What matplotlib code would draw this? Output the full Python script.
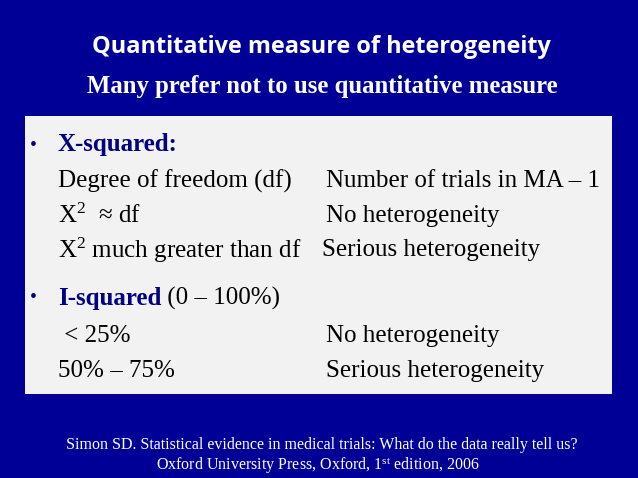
import matplotlib.pyplot as plt
from matplotlib.patches import Rectangle

plt.rcParams['mathtext.fontset'] = 'custom'
plt.rcParams['mathtext.rm'] = 'Liberation Serif'
plt.rcParams['mathtext.it'] = 'Liberation Serif'
plt.rcParams['mathtext.default'] = 'rm'

W, H = 638, 478
title = 'Quantitative measure of heterogeneity'
subtitle = 'Many prefer not to use quantitative measure'
rows_left = ['Degree of freedom (df)', 'X$^{2}$  ≈ df', 'X$^{2}$ much greater than df']
rows_right = ['Number of trials in MA – 1', 'No heterogeneity', 'Serious heterogeneity']
rows2_left = [' < 25%', '50% – 75%']
rows2_right = ['No heterogeneity', 'Serious heterogeneity']
ref1 = 'Simon SD. Statistical evidence in medical trials: What do the data really tell us?'
ref2 = 'Oxford University Press, Oxford, 1$^{st}$ edition, 2006'

fig = plt.figure(figsize=(W / 100, H / 100), dpi=100)
fig.patch.set_facecolor('#000096')
ax = fig.add_axes([0, 0, 1, 1])
ax.set_xlim(0, W)
ax.set_ylim(H, 0)
ax.axis('off')

ax.add_patch(Rectangle((25, 116), 587, 278, facecolor='#F2F2F2', edgecolor='none'))

ax.text(321, 47, title, color='white', fontsize=16.9, fontweight='bold',
        family='Open Sans', ha='center', va='center')
ax.text(322, 86, subtitle, color='white', fontsize=17.8, fontweight='bold',
        family='Liberation Serif', ha='center', va='center')

serif = 'Liberation Serif'
navy = '#000080'
fs = 18
ax.text(30, 145, '•', color=navy, fontsize=14, family=serif, va='center')
ax.text(58, 145, 'X-squared:', color=navy, fontsize=fs, family=serif, fontweight='bold', va='center')
ys = [181, 216, 250]
for i, y in enumerate(ys):
    ax.text(58, y, rows_left[i], fontsize=fs, family=serif, va='center')
    ax.text(326 if i < 2 else 322, y, rows_right[i], fontsize=fs, family=serif, va='center')

ax.text(30, 298, '•', color=navy, fontsize=14, family=serif, va='center')
t = ax.text(58, 298, 'I-squared', color=navy, fontsize=fs, family=serif, fontweight='bold', va='center')
ax.annotate(' (0 – 100%)', xycoords=t, xy=(1, 0.5), va='center', fontsize=fs, family=serif)
for i, y in enumerate([336, 371]):
    ax.text(58, y, rows2_left[i], fontsize=fs, family=serif, va='center')
    ax.text(326, y, rows2_right[i], fontsize=fs, family=serif, va='center')

ax.text(322, 445, ref1, color='white', fontsize=11.5, family=serif, ha='center', va='center')
ax.text(318, 466, ref2, color='white', fontsize=11.5, family=serif, ha='center', va='center')

fig.savefig('out.png', dpi=100, facecolor=fig.get_facecolor())
